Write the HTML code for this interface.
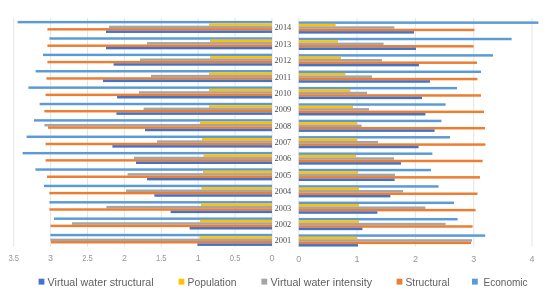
<!DOCTYPE html>
<html><head><meta charset="utf-8"><title>Chart</title>
<style>html,body{margin:0;padding:0;background:#fff}svg{display:block}</style></head><body>
<svg width="550" height="295" viewBox="0 0 550 295">
<rect width="550" height="295" fill="#fff"/>
<g stroke="#D6D6D6" stroke-width="0.65" fill="none">
<line x1="272.00" y1="18" x2="272.00" y2="246.8"/>
<line x1="235.10" y1="18" x2="235.10" y2="246.8"/>
<line x1="198.20" y1="18" x2="198.20" y2="246.8"/>
<line x1="161.30" y1="18" x2="161.30" y2="246.8"/>
<line x1="124.40" y1="18" x2="124.40" y2="246.8"/>
<line x1="87.50" y1="18" x2="87.50" y2="246.8"/>
<line x1="50.60" y1="18" x2="50.60" y2="246.8"/>
<line x1="13.70" y1="18" x2="13.70" y2="246.8"/>
<line x1="298.80" y1="18" x2="298.80" y2="246.8"/>
<line x1="357.10" y1="18" x2="357.10" y2="246.8"/>
<line x1="415.40" y1="18" x2="415.40" y2="246.8"/>
<line x1="473.70" y1="18" x2="473.70" y2="246.8"/>
<line x1="532.00" y1="18" x2="532.00" y2="246.8"/>
</g>
<g shape-rendering="auto">
<rect x="17.6" y="20.90" width="254.4" height="2.45" fill="#5B9BD5"/>
<rect x="209.0" y="23.30" width="63.0" height="2.45" fill="#FFC000"/>
<rect x="109.0" y="25.70" width="163.0" height="2.45" fill="#A5A5A5"/>
<rect x="47.4" y="28.10" width="224.6" height="2.45" fill="#ED7D31"/>
<rect x="106.0" y="30.50" width="166.0" height="2.45" fill="#4472C4"/>
<rect x="49.4" y="37.28" width="222.6" height="2.45" fill="#5B9BD5"/>
<rect x="210.0" y="39.68" width="62.0" height="2.45" fill="#FFC000"/>
<rect x="147.0" y="42.08" width="125.0" height="2.45" fill="#A5A5A5"/>
<rect x="47.4" y="44.48" width="224.6" height="2.45" fill="#ED7D31"/>
<rect x="106.0" y="46.88" width="166.0" height="2.45" fill="#4472C4"/>
<rect x="43.0" y="53.66" width="229.0" height="2.45" fill="#5B9BD5"/>
<rect x="210.0" y="56.06" width="62.0" height="2.45" fill="#FFC000"/>
<rect x="140.0" y="58.46" width="132.0" height="2.45" fill="#A5A5A5"/>
<rect x="47.4" y="60.86" width="224.6" height="2.45" fill="#ED7D31"/>
<rect x="113.6" y="63.26" width="158.4" height="2.45" fill="#4472C4"/>
<rect x="35.6" y="70.04" width="236.4" height="2.45" fill="#5B9BD5"/>
<rect x="209.0" y="72.44" width="63.0" height="2.45" fill="#FFC000"/>
<rect x="151.0" y="74.84" width="121.0" height="2.45" fill="#A5A5A5"/>
<rect x="46.4" y="77.24" width="225.6" height="2.45" fill="#ED7D31"/>
<rect x="103.0" y="79.64" width="169.0" height="2.45" fill="#4472C4"/>
<rect x="28.4" y="86.42" width="243.6" height="2.45" fill="#5B9BD5"/>
<rect x="209.0" y="88.82" width="63.0" height="2.45" fill="#FFC000"/>
<rect x="139.0" y="91.22" width="133.0" height="2.45" fill="#A5A5A5"/>
<rect x="45.6" y="93.62" width="226.4" height="2.45" fill="#ED7D31"/>
<rect x="117.0" y="96.02" width="155.0" height="2.45" fill="#4472C4"/>
<rect x="39.6" y="102.80" width="232.4" height="2.45" fill="#5B9BD5"/>
<rect x="209.0" y="105.20" width="63.0" height="2.45" fill="#FFC000"/>
<rect x="143.6" y="107.60" width="128.4" height="2.45" fill="#A5A5A5"/>
<rect x="44.4" y="110.00" width="227.6" height="2.45" fill="#ED7D31"/>
<rect x="116.4" y="112.40" width="155.6" height="2.45" fill="#4472C4"/>
<rect x="34.0" y="119.18" width="238.0" height="2.45" fill="#5B9BD5"/>
<rect x="200.0" y="121.58" width="72.0" height="2.45" fill="#FFC000"/>
<rect x="44.4" y="123.98" width="227.6" height="2.45" fill="#A5A5A5"/>
<rect x="48.0" y="126.38" width="224.0" height="2.45" fill="#ED7D31"/>
<rect x="145.0" y="128.78" width="127.0" height="2.45" fill="#4472C4"/>
<rect x="26.6" y="135.56" width="245.4" height="2.45" fill="#5B9BD5"/>
<rect x="202.0" y="137.96" width="70.0" height="2.45" fill="#FFC000"/>
<rect x="157.0" y="140.36" width="115.0" height="2.45" fill="#A5A5A5"/>
<rect x="45.6" y="142.76" width="226.4" height="2.45" fill="#ED7D31"/>
<rect x="112.4" y="145.16" width="159.6" height="2.45" fill="#4472C4"/>
<rect x="22.6" y="151.94" width="249.4" height="2.45" fill="#5B9BD5"/>
<rect x="203.6" y="154.34" width="68.4" height="2.45" fill="#FFC000"/>
<rect x="134.0" y="156.74" width="138.0" height="2.45" fill="#A5A5A5"/>
<rect x="45.6" y="159.14" width="226.4" height="2.45" fill="#ED7D31"/>
<rect x="136.0" y="161.54" width="136.0" height="2.45" fill="#4472C4"/>
<rect x="35.4" y="168.32" width="236.6" height="2.45" fill="#5B9BD5"/>
<rect x="203.0" y="170.72" width="69.0" height="2.45" fill="#FFC000"/>
<rect x="127.6" y="173.12" width="144.4" height="2.45" fill="#A5A5A5"/>
<rect x="47.0" y="175.52" width="225.0" height="2.45" fill="#ED7D31"/>
<rect x="147.0" y="177.92" width="125.0" height="2.45" fill="#4472C4"/>
<rect x="44.0" y="184.70" width="228.0" height="2.45" fill="#5B9BD5"/>
<rect x="201.4" y="187.10" width="70.6" height="2.45" fill="#FFC000"/>
<rect x="126.0" y="189.50" width="146.0" height="2.45" fill="#A5A5A5"/>
<rect x="49.4" y="191.90" width="222.6" height="2.45" fill="#ED7D31"/>
<rect x="154.4" y="194.30" width="117.6" height="2.45" fill="#4472C4"/>
<rect x="49.4" y="201.08" width="222.6" height="2.45" fill="#5B9BD5"/>
<rect x="201.0" y="203.48" width="71.0" height="2.45" fill="#FFC000"/>
<rect x="106.4" y="205.88" width="165.6" height="2.45" fill="#A5A5A5"/>
<rect x="49.4" y="208.28" width="222.6" height="2.45" fill="#ED7D31"/>
<rect x="170.6" y="210.68" width="101.4" height="2.45" fill="#4472C4"/>
<rect x="54.0" y="217.46" width="218.0" height="2.45" fill="#5B9BD5"/>
<rect x="200.0" y="219.86" width="72.0" height="2.45" fill="#FFC000"/>
<rect x="72.0" y="222.26" width="200.0" height="2.45" fill="#A5A5A5"/>
<rect x="50.6" y="224.66" width="221.4" height="2.45" fill="#ED7D31"/>
<rect x="189.6" y="227.06" width="82.4" height="2.45" fill="#4472C4"/>
<rect x="50.4" y="233.84" width="221.6" height="2.45" fill="#5B9BD5"/>
<rect x="199.4" y="236.24" width="72.6" height="2.45" fill="#FFC000"/>
<rect x="50.4" y="238.64" width="221.6" height="2.45" fill="#A5A5A5"/>
<rect x="51.0" y="241.04" width="221.0" height="2.45" fill="#ED7D31"/>
<rect x="197.4" y="243.44" width="74.6" height="2.45" fill="#4472C4"/>
<rect x="298.8" y="21.40" width="239.6" height="2.48" fill="#5B9BD5"/>
<rect x="298.8" y="23.83" width="36.8" height="2.48" fill="#FFC000"/>
<rect x="298.8" y="26.26" width="95.6" height="2.48" fill="#A5A5A5"/>
<rect x="298.8" y="28.69" width="175.6" height="2.48" fill="#ED7D31"/>
<rect x="298.8" y="31.12" width="115.2" height="2.48" fill="#4472C4"/>
<rect x="298.8" y="37.78" width="212.8" height="2.48" fill="#5B9BD5"/>
<rect x="298.8" y="40.21" width="39.2" height="2.48" fill="#FFC000"/>
<rect x="298.8" y="42.64" width="84.8" height="2.48" fill="#A5A5A5"/>
<rect x="298.8" y="45.07" width="174.8" height="2.48" fill="#ED7D31"/>
<rect x="298.8" y="47.50" width="117.2" height="2.48" fill="#4472C4"/>
<rect x="298.8" y="54.16" width="194.2" height="2.48" fill="#5B9BD5"/>
<rect x="298.8" y="56.59" width="42.2" height="2.48" fill="#FFC000"/>
<rect x="298.8" y="59.02" width="83.2" height="2.48" fill="#A5A5A5"/>
<rect x="298.8" y="61.45" width="178.2" height="2.48" fill="#ED7D31"/>
<rect x="298.8" y="63.88" width="120.2" height="2.48" fill="#4472C4"/>
<rect x="298.8" y="70.54" width="182.2" height="2.48" fill="#5B9BD5"/>
<rect x="298.8" y="72.97" width="46.6" height="2.48" fill="#FFC000"/>
<rect x="298.8" y="75.40" width="73.2" height="2.48" fill="#A5A5A5"/>
<rect x="298.8" y="77.83" width="178.6" height="2.48" fill="#ED7D31"/>
<rect x="298.8" y="80.26" width="131.2" height="2.48" fill="#4472C4"/>
<rect x="298.8" y="86.92" width="158.2" height="2.48" fill="#5B9BD5"/>
<rect x="298.8" y="89.35" width="51.6" height="2.48" fill="#FFC000"/>
<rect x="298.8" y="91.78" width="68.2" height="2.48" fill="#A5A5A5"/>
<rect x="298.8" y="94.21" width="182.2" height="2.48" fill="#ED7D31"/>
<rect x="298.8" y="96.64" width="123.2" height="2.48" fill="#4472C4"/>
<rect x="298.8" y="103.30" width="146.8" height="2.48" fill="#5B9BD5"/>
<rect x="298.8" y="105.73" width="54.2" height="2.48" fill="#FFC000"/>
<rect x="298.8" y="108.16" width="70.2" height="2.48" fill="#A5A5A5"/>
<rect x="298.8" y="110.59" width="185.2" height="2.48" fill="#ED7D31"/>
<rect x="298.8" y="113.02" width="126.6" height="2.48" fill="#4472C4"/>
<rect x="298.8" y="119.68" width="142.6" height="2.48" fill="#5B9BD5"/>
<rect x="298.8" y="122.11" width="58.2" height="2.48" fill="#FFC000"/>
<rect x="298.8" y="124.54" width="62.8" height="2.48" fill="#A5A5A5"/>
<rect x="298.8" y="126.97" width="186.2" height="2.48" fill="#ED7D31"/>
<rect x="298.8" y="129.40" width="135.8" height="2.48" fill="#4472C4"/>
<rect x="298.8" y="136.06" width="151.2" height="2.48" fill="#5B9BD5"/>
<rect x="298.8" y="138.49" width="58.2" height="2.48" fill="#FFC000"/>
<rect x="298.8" y="140.92" width="79.2" height="2.48" fill="#A5A5A5"/>
<rect x="298.8" y="143.35" width="186.6" height="2.48" fill="#ED7D31"/>
<rect x="298.8" y="145.78" width="119.8" height="2.48" fill="#4472C4"/>
<rect x="298.8" y="152.44" width="133.6" height="2.48" fill="#5B9BD5"/>
<rect x="298.8" y="154.87" width="57.2" height="2.48" fill="#FFC000"/>
<rect x="298.8" y="157.30" width="95.2" height="2.48" fill="#A5A5A5"/>
<rect x="298.8" y="159.73" width="183.8" height="2.48" fill="#ED7D31"/>
<rect x="298.8" y="162.16" width="102.2" height="2.48" fill="#4472C4"/>
<rect x="298.8" y="168.82" width="132.2" height="2.48" fill="#5B9BD5"/>
<rect x="298.8" y="171.25" width="59.2" height="2.48" fill="#FFC000"/>
<rect x="298.8" y="173.68" width="96.2" height="2.48" fill="#A5A5A5"/>
<rect x="298.8" y="176.11" width="181.2" height="2.48" fill="#ED7D31"/>
<rect x="298.8" y="178.54" width="95.8" height="2.48" fill="#4472C4"/>
<rect x="298.8" y="185.20" width="139.8" height="2.48" fill="#5B9BD5"/>
<rect x="298.8" y="187.63" width="60.2" height="2.48" fill="#FFC000"/>
<rect x="298.8" y="190.06" width="104.2" height="2.48" fill="#A5A5A5"/>
<rect x="298.8" y="192.49" width="178.7" height="2.48" fill="#ED7D31"/>
<rect x="298.8" y="194.92" width="91.6" height="2.48" fill="#4472C4"/>
<rect x="298.8" y="201.58" width="155.2" height="2.48" fill="#5B9BD5"/>
<rect x="298.8" y="204.01" width="60.2" height="2.48" fill="#FFC000"/>
<rect x="298.8" y="206.44" width="126.6" height="2.48" fill="#A5A5A5"/>
<rect x="298.8" y="208.87" width="176.8" height="2.48" fill="#ED7D31"/>
<rect x="298.8" y="211.30" width="78.6" height="2.48" fill="#4472C4"/>
<rect x="298.8" y="217.96" width="158.8" height="2.48" fill="#5B9BD5"/>
<rect x="298.8" y="220.39" width="60.2" height="2.48" fill="#FFC000"/>
<rect x="298.8" y="222.82" width="146.8" height="2.48" fill="#A5A5A5"/>
<rect x="298.8" y="225.25" width="173.8" height="2.48" fill="#ED7D31"/>
<rect x="298.8" y="227.68" width="63.6" height="2.48" fill="#4472C4"/>
<rect x="298.8" y="234.34" width="186.4" height="2.48" fill="#5B9BD5"/>
<rect x="298.8" y="236.77" width="58.2" height="2.48" fill="#FFC000"/>
<rect x="298.8" y="239.20" width="173.2" height="2.48" fill="#A5A5A5"/>
<rect x="298.8" y="241.63" width="172.2" height="2.48" fill="#ED7D31"/>
<rect x="298.8" y="244.06" width="59.2" height="2.48" fill="#4472C4"/>
</g>
<g font-family="'Liberation Serif', serif" font-size="8.3" fill="#4a4a4a" text-anchor="middle">
<text x="282.9" y="30.45">2014</text>
<text x="282.9" y="46.82">2013</text>
<text x="282.9" y="63.19">2012</text>
<text x="282.9" y="79.56">2011</text>
<text x="282.9" y="95.93">2010</text>
<text x="282.9" y="112.30">2009</text>
<text x="282.9" y="128.67">2008</text>
<text x="282.9" y="145.04">2007</text>
<text x="282.9" y="161.41">2006</text>
<text x="282.9" y="177.78">2005</text>
<text x="282.9" y="194.15">2004</text>
<text x="282.9" y="210.52">2003</text>
<text x="282.9" y="226.89">2002</text>
<text x="282.9" y="243.26">2001</text>
</g>
<g font-family="'Liberation Sans', sans-serif" font-size="9" fill="#969696" text-anchor="middle">
<text x="272.00" y="260.8">0</text>
<text x="235.10" y="260.8" textLength="10.6" lengthAdjust="spacingAndGlyphs">0.5</text>
<text x="198.20" y="260.8">1</text>
<text x="161.30" y="260.8" textLength="10.6" lengthAdjust="spacingAndGlyphs">1.5</text>
<text x="124.40" y="260.8">2</text>
<text x="87.50" y="260.8" textLength="10.6" lengthAdjust="spacingAndGlyphs">2.5</text>
<text x="50.60" y="260.8">3</text>
<text x="13.70" y="260.8" textLength="10.6" lengthAdjust="spacingAndGlyphs">3.5</text>
<text x="298.80" y="261.6">0</text>
<text x="357.10" y="261.6">1</text>
<text x="415.40" y="261.6">2</text>
<text x="473.70" y="261.6">3</text>
<text x="532.00" y="261.6">4</text>
</g>
<g font-family="'Liberation Sans', sans-serif" font-size="10.6" fill="#606060">
<rect x="38.6" y="278.7" width="5.8" height="5.9" fill="#4472C4"/>
<text x="47.6" y="285.5" textLength="106.0" lengthAdjust="spacingAndGlyphs">Virtual water structural</text>
<rect x="178.6" y="278.7" width="5.8" height="5.9" fill="#FFC000"/>
<text x="187.6" y="285.5" textLength="48.8" lengthAdjust="spacingAndGlyphs">Population</text>
<rect x="261.4" y="278.7" width="5.8" height="5.9" fill="#A5A5A5"/>
<text x="270.6" y="285.5" textLength="101.4" lengthAdjust="spacingAndGlyphs">Virtual water intensity</text>
<rect x="396.6" y="278.7" width="5.8" height="5.9" fill="#ED7D31"/>
<text x="405.4" y="285.5" textLength="44.2" lengthAdjust="spacingAndGlyphs">Structural</text>
<rect x="472.0" y="278.7" width="5.8" height="5.9" fill="#5B9BD5"/>
<text x="483.6" y="285.5" textLength="44.0" lengthAdjust="spacingAndGlyphs">Economic</text>
</g>
</svg></body></html>
